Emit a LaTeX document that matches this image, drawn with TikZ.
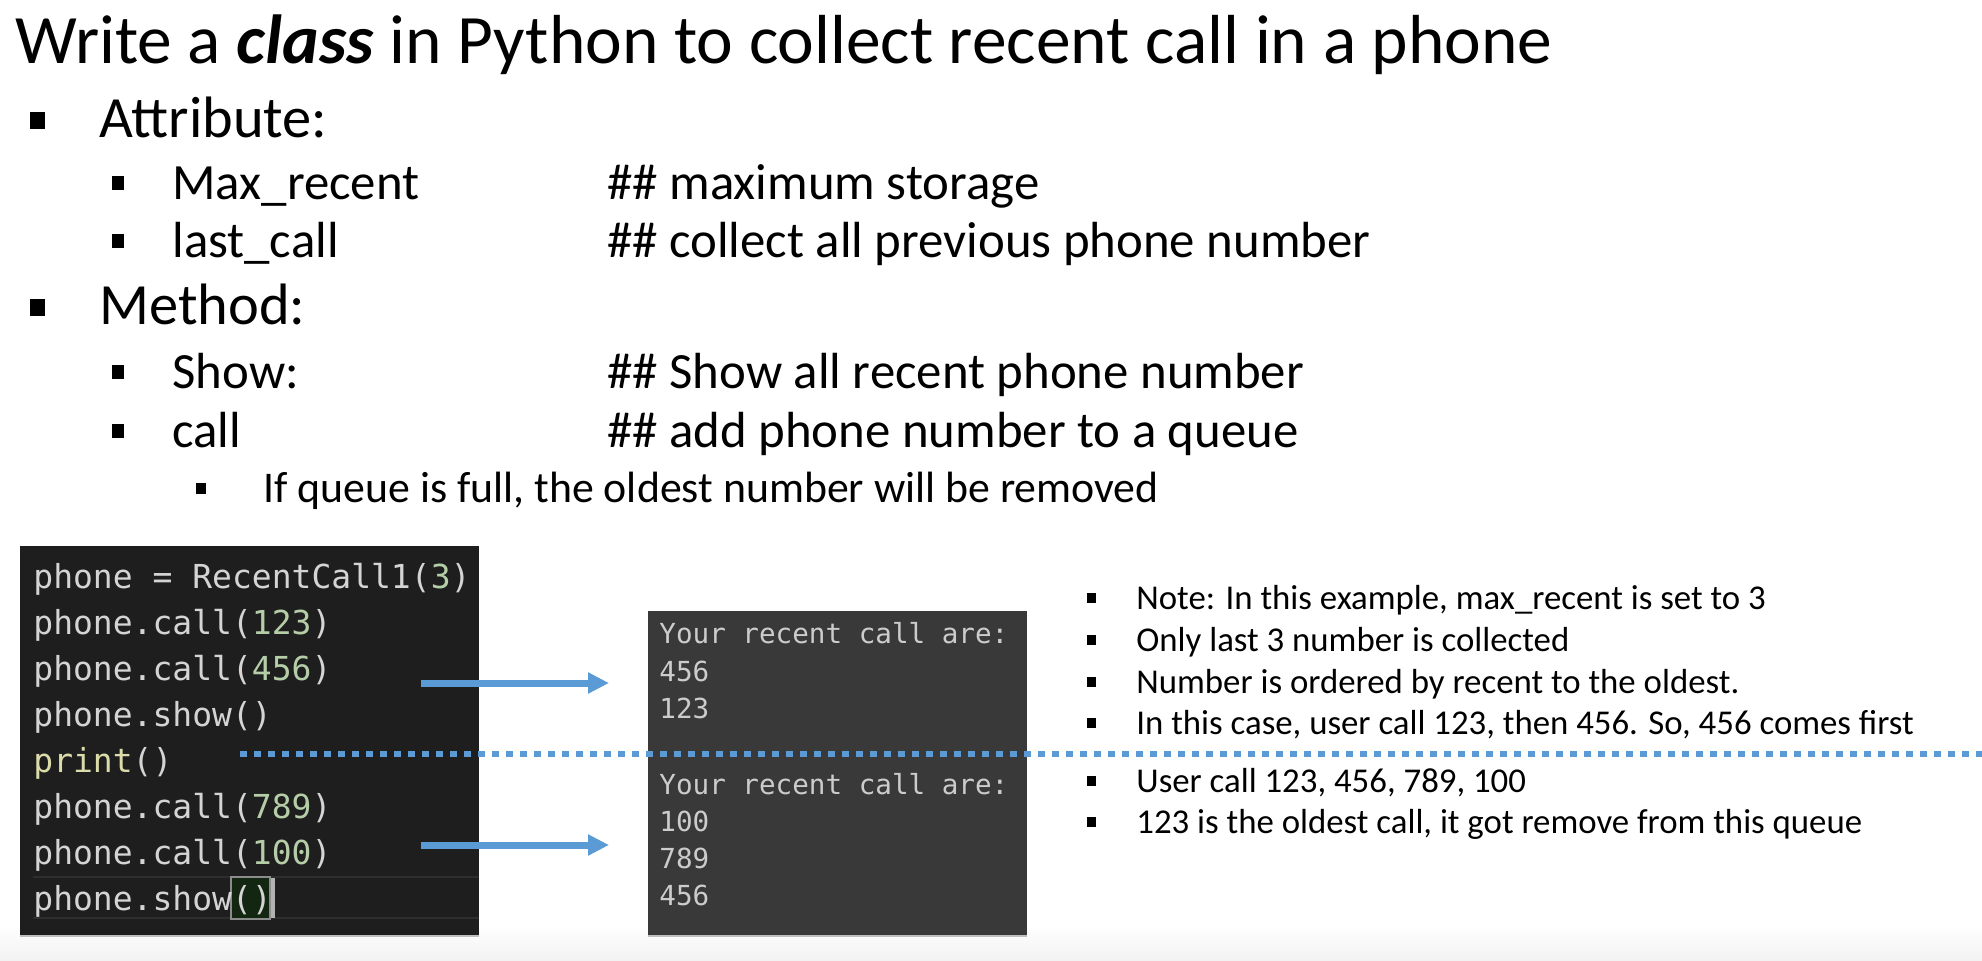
\documentclass[tikz,border=0pt]{standalone}
\usepackage{fontspec}
\setmainfont{Carlito}
\newfontfamily\codefont{DejaVu Sans Mono}
\usetikzlibrary{arrows.meta}
\definecolor{codebg}{HTML}{1E1E1E}
\definecolor{outbg}{HTML}{393939}
\definecolor{codetxt}{HTML}{D4D4D4}
\definecolor{numtxt}{HTML}{B5CEA8}
\definecolor{fntxt}{HTML}{DCDCAA}
\definecolor{outtxt}{HTML}{CCCCCC}
\definecolor{accent}{HTML}{5B9BD5}
\definecolor{hlline}{HTML}{2E2E2E}
\newcommand{\nm}[1]{\textcolor{numtxt}{#1}}
\begin{document}
\begin{tikzpicture}[x=0.5pt,y=-0.5pt,
  txt/.style={anchor=base west, inner sep=0pt, text=black},
  ttl/.style={txt, font=\fontsize{34.7}{40}\selectfont},
  lone/.style={txt, font=\fontsize{29.2}{34}\selectfont},
  ltwo/.style={txt, font=\fontsize{25.4}{30}\selectfont},
  lthree/.style={txt, font=\fontsize{21.9}{26}\selectfont},
  note/.style={txt, font=\fontsize{17.4}{21}\selectfont},
  sqb/.style={fill=black, inner sep=0pt, draw=none, rectangle},
  bulA/.style={sqb, minimum width=7.5pt, minimum height=8.5pt},
  bulB/.style={sqb, minimum width=6pt, minimum height=7pt},
  bulC/.style={sqb, minimum width=5pt, minimum height=5.5pt},
  bulD/.style={sqb, minimum width=4.5pt, minimum height=5pt},
  panel/.style={anchor=north west, inner sep=0pt, draw=none},
  code/.style={anchor=base west, inner sep=0pt, text=codetxt, font=\codefont\fontsize{16.5}{20}\selectfont},
  outp/.style={anchor=base west, inner sep=0pt, text=outtxt, font=\codefont\fontsize{13.8}{17}\selectfont},
  arr/.style={draw=accent, line width=3.5pt, -{Triangle[length=10.5pt,width=10pt]}},
  dotline/.style={draw=accent, line width=3pt, dash pattern=on 3.5pt off 3.5pt}
]
\useasboundingbox (0,0) rectangle (1982,960);
\fill[white] (0,0) rectangle (1982,960);
\shade[top color=white, bottom color=black!5] (0,925) rectangle (1982,960);

% title and bullet list
\node[ttl] (title) at (15,63) {Write a \textbf{\textit{class}} in Python to collect recent call in a phone};

\node[bulA] (ba) at (37,120) {};
\node[lone] (attr) at (99,137) {Attribute:};
\node[bulB] (bb1) at (118,183) {};
\node[ltwo] (maxr) at (172,199) {Max\_recent};
\node[ltwo] (maxc) at (607,199) {\#\# maximum storage};
\node[bulB] (bb2) at (118,241) {};
\node[ltwo] (lastc) at (172,257) {last\_call};
\node[ltwo] (lastcc) at (607,257) {\#\# collect all previous phone number};

\node[bulA] (bm) at (37,307) {};
\node[lone] (meth) at (99,324) {Method:};
\node[bulB] (bb3) at (118,372) {};
\node[ltwo] (show) at (172,388) {Show:};
\node[ltwo] (showc) at (607,388) {\#\# Show all recent phone number};
\node[bulB] (bb4) at (118,431) {};
\node[ltwo] (call) at (172,447) {call};
\node[ltwo] (callc) at (607,447) {\#\# add phone number to a queue};
\node[bulC] (bc1) at (201,488) {};
\node[lthree] (full) at (263,502) {If queue is full, the oldest number will be removed};

% code panel
\node[panel, fill=codebg, minimum width=229.5pt, minimum height=195pt] (codep) at (20,546) {};
\draw[hlline, line width=1pt] (33,877) -- (479,877) (33,918) -- (479,918);
\draw[fill=black!80!green!40!codebg, draw=black!45, line width=0.8pt] (231,877) rectangle (270,919);
\fill[black!30] (271,878) rectangle (275,918);
\node[code] (c1) at (33,588) {phone = RecentCall1(\nm{3})};
\node[code] (c2) at (33,634) {phone.call(\nm{123})};
\node[code] (c3) at (33,680) {phone.call(\nm{456})};
\node[code] (c4) at (33,726) {phone.show()};
\node[code] (c5) at (33,772) {\textcolor{fntxt}{print}()};
\node[code] (c6) at (33,818) {phone.call(\nm{789})};
\node[code] (c7) at (33,864) {phone.call(\nm{100})};
\node[code] (c8) at (33,910) {phone.show()};
\draw[black!25, line width=1pt] (20,936) -- (479,936);

% output panel
\node[panel, fill=outbg, minimum width=189.5pt, minimum height=162.5pt] (outp) at (648,611) {};
\node[outp] (o1) at (659,643) {Your recent call are:};
\node[outp] (o2) at (659,681) {456};
\node[outp] (o3) at (659,718) {123};
\node[outp] (o4) at (659,794) {Your recent call are:};
\node[outp] (o5) at (659,831) {100};
\node[outp] (o6) at (659,868) {789};
\node[outp] (o7) at (659,905) {456};
\draw[black!25, line width=1pt] (648,936) -- (1027,936);

% arrows
\coordinate (a1s) at (421,683);
\coordinate (a1e) at (609,683);
\coordinate (a2s) at (421,845);
\coordinate (a2e) at (609,845);
\draw[arr] (a1s) -- (a1e);
\draw[arr] (a2s) -- (a2e);

% dotted separator
\coordinate (dl) at (240,754);
\coordinate (dr) at (1982,754);
\draw[dotline] (dl) -- (dr);

% notes
\node[bulD] (n1b) at (1091,598) {};
\node[note] (n1) at (1136,609) {Note: In this example, max\_recent is set to 3};
\node[bulD] (n2b) at (1091,640) {};
\node[note] (n2) at (1136,651) {Only last 3 number is collected};
\node[bulD] (n3b) at (1091,682) {};
\node[note] (n3) at (1136,693) {Number is ordered by recent to the oldest.};
\node[bulD] (n4b) at (1091,723) {};
\node[note] (n4) at (1136,734) {In this case, user call 123, then 456. So, 456 comes first};
\node[bulD] (n5b) at (1091,781) {};
\node[note] (n5) at (1136,792) {User call 123, 456, 789, 100};
\node[bulD] (n6b) at (1091,822) {};
\node[note] (n6) at (1136,833) {123 is the oldest call, it got remove from this queue};
\end{tikzpicture}
\end{document}
